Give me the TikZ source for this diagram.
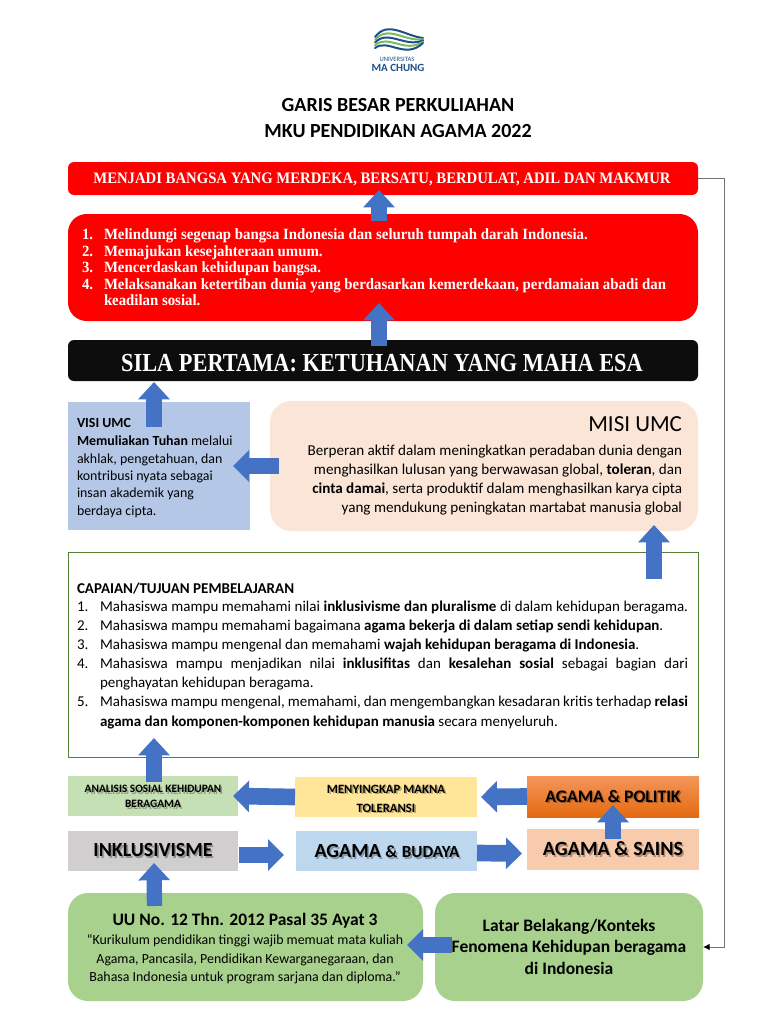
\documentclass[tikz,border=0pt]{standalone}
\usepackage{fontspec}
\setmainfont{Carlito}
\newfontfamily\cambria[FakeStretch=0.95]{Liberation Serif}
\newfontfamily\cambriaM[FakeStretch=0.92]{Liberation Serif}
\newfontfamily\cambriaN[FakeStretch=0.86]{Liberation Serif}
\usetikzlibrary{arrows.meta,calc}
\definecolor{arrowblue}{HTML}{4472C4}
\definecolor{pure}{HTML}{FF0000}
\definecolor{navy}{HTML}{1C4F8C}
\definecolor{leaf}{HTML}{7DBB5A}
\definecolor{cvisi}{HTML}{B4C7E7}
\definecolor{cmisi}{HTML}{FBE5D6}
\definecolor{coutline}{HTML}{548235}
\definecolor{canalisis}{HTML}{C5E0B4}
\definecolor{cmakna}{HTML}{FFE699}
\definecolor{cpoltop}{HTML}{F4965A}
\definecolor{cpolbot}{HTML}{E56A10}
\definecolor{cinkl}{HTML}{D0CECE}
\definecolor{cbudaya}{HTML}{BDD7EE}
\definecolor{csains}{HTML}{F8CBAD}
\definecolor{cgreen}{HTML}{A9D18E}
\newcommand\pxf[1]{\fontsize{\fpeval{#1*0.75}pt}{\fpeval{#1*0.9}pt}\selectfont}
\newcommand\bx[6]{\node[boxbase,#1,minimum width={(#4-#2)*0.75pt},minimum height={(#5-#3)*0.75pt}] (#6) at ({(#2+#4)/2},{(#3+#5)/2}) {};}
\newcommand\shlab[4]{%
 \node[txtc,opacity=.3,font=#4] (#1s) at ($(#2)+(1.6,1.8)$) {#3};
 \node[txtc,font=#4] (#1) at (#2) {#3};}
\tikzset{
 boxbase/.style={inner sep=0pt,outer sep=0pt,draw=none},
 txtl/.style={anchor=base west,inner sep=0pt,outer sep=0pt,yshift=-4pt},
 txtr/.style={anchor=base east,inner sep=0pt,outer sep=0pt,yshift=-4pt},
 txtc/.style={anchor=center,inner sep=0pt,outer sep=0pt},
 txtb/.style={anchor=base,inner sep=0pt,outer sep=0pt,yshift=-4pt},
 redtxt/.style={txtl,text=white,font=\cambria\bfseries\pxf{15.6}},
 capt/.style={txtl,font=\pxf{15}},
 misit/.style={txtr,font=\pxf{15.1}},
 visit/.style={txtl,font=\pxf{13.9}},
 blkv/.style={draw=arrowblue,line width=11.5pt,-{Triangle[length=13pt,width=23pt,fill=arrowblue]}},
 blkh/.style={draw=arrowblue,line width=12.5pt,-{Triangle[length=12pt,width=23pt,fill=arrowblue]}},
 wave/.style={line width=1.5pt,line cap=round},
}
\begin{document}
\begin{tikzpicture}[x=0.75pt,y=-0.75pt]
\useasboundingbox (0,0) rectangle (768,1024);
% logo
\foreach \t/\c in {0/navy,0.25/leaf,0.5/navy,0.75/leaf,1/navy}{
 \draw[wave,draw=\c] (375,{37+11*\t}) .. controls (388,{20+18*\t}) and (405,{36+24*\t}) .. (423,{38+5*\t});
}
\node[txtc,text=navy,font=\pxf{6.6}] (logoa) at (397,59) {UNIVERSITAS};
\node[txtc,text=navy,font=\bfseries\pxf{11}] (logob) at (398,68) {MA CHUNG};
% title
\node[txtc,font=\bfseries\pxf{20}] (title1) at (398,105) {GARIS BESAR PERKULIAHAN};
\node[txtc,font=\bfseries\pxf{20}] (title2) at (398,131) {MKU PENDIDIKAN AGAMA 2022};
% boxes
\bx{fill=pure,rounded corners=4.5pt}{68}{162}{698}{195}{red1}
\bx{fill=pure,rounded corners=14pt}{68}{214}{698}{321}{red2}
\bx{fill=black!95,rounded corners=4.5pt}{68}{340}{698}{381}{sila}
\bx{fill=cvisi}{68}{402}{250}{530}{visi}
\bx{fill=cmisi,rounded corners=16pt}{270}{401}{698}{531}{misi}
\bx{draw=coutline,line width=.75pt}{68}{552}{698}{757}{capaian}
\bx{fill=canalisis}{68}{776}{238}{816}{analisis}
\bx{fill=cmakna}{295}{777}{477}{817}{makna}
\bx{top color=cpoltop,bottom color=cpolbot}{527}{776}{699}{817}{politik}
\bx{fill=cinkl}{68}{831}{238}{871}{inkl}
\bx{fill=cbudaya}{296}{831}{477}{871}{budaya}
\bx{fill=csains}{527}{829}{699}{870}{sains}
\bx{fill=cgreen,rounded corners=15pt}{68}{893}{423}{1001}{uu}
\bx{fill=cgreen,rounded corners=15pt}{435}{893}{703}{1001}{latar}
% thin connector
\draw[draw=black!55,line width=.75pt,-{Latex[length=5pt,width=5pt,black]}] (red1.east) -- ++(26,0) |- (latar.east);
% block arrows
\draw[blkv] ([shift={(-4,7)}]red2.north) -- ([shift={(-4,-5)}]red1.south);
\draw[blkv] ([shift={(-4,6)}]sila.north) -- ([shift={(-4,-18)}]red2.south);
\draw[blkv] ([shift={(-5,25)}]visi.north) -- ([shift={(-229,1)}]sila.south);
\draw[blkh] ([shift={(9,0)}]misi.west) -- ([shift={(-17,0)}]visi.east);
\draw[blkv] ([shift={(271,27)}]capaian.north) -- ([shift={(170,-6)}]misi.south);
\draw[blkv] ([shift={(1,6)}]analisis.north) -- ([shift={(-229,-19)}]capaian.south);
\draw[blkh] (makna.west) -- ([shift={(-5,0)}]analisis.east);
\draw[blkh] (politik.west) -- ([shift={(4,0)}]makna.east);
\draw[blkv] ([shift={(0,-31)}]sains.south) -- ([shift={(0,-12)}]politik.south);
\draw[blkh] ([shift={(1,4)}]inkl.east) -- ([shift={(-12,4)}]budaya.west);
\draw[blkh] ([shift={(0,2)}]budaya.east) -- ([shift={(-5,4)}]sains.west);
\draw[blkv] ([shift={(-91,13)}]uu.north) -- ([shift={(1,-8)}]inkl.south);
\draw[blkh] ([shift={(17,-2)}]latar.west) -- ([shift={(-16,-2)}]uu.east);
% text of red boxes
\node[txtc,text=white,font=\cambriaM\bfseries\pxf{16}] (mission) at (382,179) {MENJADI BANGSA YANG MERDEKA, BERSATU, BERDULAT, ADIL DAN MAKMUR};
\node[redtxt] (n1) at (82,234) {1.}; \node[redtxt] (l1) at (104,234) {Melindungi segenap bangsa Indonesia dan seluruh tumpah darah Indonesia.};
\node[redtxt] (n2) at (82,251) {2.}; \node[redtxt] (l2) at (104,251) {Memajukan kesejahteraan umum.};
\node[redtxt] (n3) at (82,267) {3.}; \node[redtxt] (l3) at (104,267) {Mencerdaskan kehidupan bangsa.};
\node[redtxt] (n4) at (82,284) {4.}; \node[redtxt] (l4) at (104,284) {Melaksanakan ketertiban dunia yang berdasarkan kemerdekaan, perdamaian abadi dan};
\node[redtxt] (l4b) at (104,300) {keadilan sosial.};
\node[txtc,text=white,font=\cambriaN\bfseries\pxf{26}] (silat) at (382,363) {SILA PERTAMA: KETUHANAN YANG MAHA ESA};
% visi
\node[visit,font=\bfseries\pxf{13.9}] (v0) at (77,422) {VISI UMC};
\node[visit] (v1) at (77,440) {\textbf{Memuliakan Tuhan} melalui};
\node[visit] (v2) at (77,458) {akhlak, pengetahuan, dan};
\node[visit] (v3) at (77,475) {kontribusi nyata sebagai};
\node[visit] (v4) at (77,492) {insan akademik yang};
\node[visit] (v5) at (77,510) {berdaya cipta.};
% misi
\node[txtr,font=\pxf{23}] (m0) at (682,426) {MISI UMC};
\node[misit] (m1) at (682,450) {Berperan aktif dalam meningkatkan peradaban dunia dengan};
\node[misit] (m2) at (682,469) {menghasilkan lulusan yang berwawasan global, \textbf{toleran}, dan};
\node[misit] (m3) at (682,488) {\textbf{cinta damai}, serta produktif dalam menghasilkan karya cipta};
\node[misit] (m4) at (682,507) {yang mendukung peningkatan martabat manusia global};
% capaian
\node[capt,font=\bfseries\pxf{15}] (c0) at (77,588) {CAPAIAN/TUJUAN PEMBELAJARAN};
\node[capt] (cn1) at (77,606) {1.};
\node[capt] (c1) at (100,606) {\makebox[441pt][s]{Mahasiswa mampu memahami nilai \textbf{inklusivisme dan pluralisme} di dalam kehidupan beragama.}};
\node[capt] (cn2) at (77,625) {2.};
\node[capt] (c2) at (100,625) {Mahasiswa mampu memahami bagaimana \textbf{agama bekerja di dalam setiap sendi kehidupan}.};
\node[capt] (cn3) at (77,644) {3.};
\node[capt] (c3) at (100,644) {Mahasiswa mampu mengenal dan memahami \textbf{wajah kehidupan beragama di Indonesia}.};
\node[capt] (cn4) at (77,663) {4.};
\node[capt] (c4) at (100,663) {\makebox[441pt][s]{Mahasiswa mampu menjadikan nilai \textbf{inklusifitas} dan \textbf{kesalehan sosial} sebagai bagian dari}};
\node[capt] (c4b) at (100,682) {penghayatan kehidupan beragama.};
\node[capt] (cn5) at (77,701) {5.};
\node[capt] (c5) at (100,701) {\makebox[441pt][s]{Mahasiswa mampu mengenal, memahami, dan mengembangkan kesadaran kritis terhadap \textbf{relasi}}};
\node[capt] (c5b) at (100,721) {\textbf{agama dan komponen-komponen kehidupan manusia} secara menyeluruh.};
% lower row labels
\shlab{an1}{153,789}{ANALISIS SOSIAL KEHIDUPAN}{\bfseries\pxf{11.3}}
\shlab{an2}{153,804}{BERAGAMA}{\bfseries\pxf{11.3}}
\shlab{ma1}{386,789}{MENYINGKAP MAKNA}{\bfseries\pxf{12.7}}
\shlab{ma2}{386,808}{TOLERANSI}{\bfseries\pxf{12.7}}
\shlab{pol}{613,796}{AGAMA \& POLITIK}{\bfseries\pxf{17.6}}
\shlab{ink}{153,850}{INKLUSIVISME}{\bfseries\pxf{20}}
\shlab{bud}{387,851}{AGAMA {\pxf{17}\&} {\pxf{17}BUDAYA}}{\bfseries\pxf{20}}
\shlab{sai}{613,849}{AGAMA \& SAINS}{\bfseries\pxf{20.2}}
% green boxes
\node[txtb,font=\bfseries\pxf{17.5}] (u0) at (245,920) {UU No. 12 Thn. 2012 Pasal 35 Ayat 3};
\node[txtb,font=\pxf{13.9}] (u1) at (245,939) {“Kurikulum pendidikan tinggi wajib memuat mata kuliah};
\node[txtb,font=\pxf{13.9}] (u2) at (245,958) {Agama, Pancasila, Pendidikan Kewarganegaraan, dan};
\node[txtb,font=\pxf{13.9}] (u3) at (245,976) {Bahasa Indonesia untuk program sarjana dan diploma.”};
\node[txtb,font=\bfseries\pxf{17.5}] (la1) at (569,926) {Latar Belakang/Konteks};
\node[txtb,font=\bfseries\pxf{17.5}] (la2) at (569,947) {Fenomena Kehidupan beragama};
\node[txtb,font=\bfseries\pxf{17.5}] (la3) at (569,969) {di Indonesia};
\end{tikzpicture}
\end{document}
